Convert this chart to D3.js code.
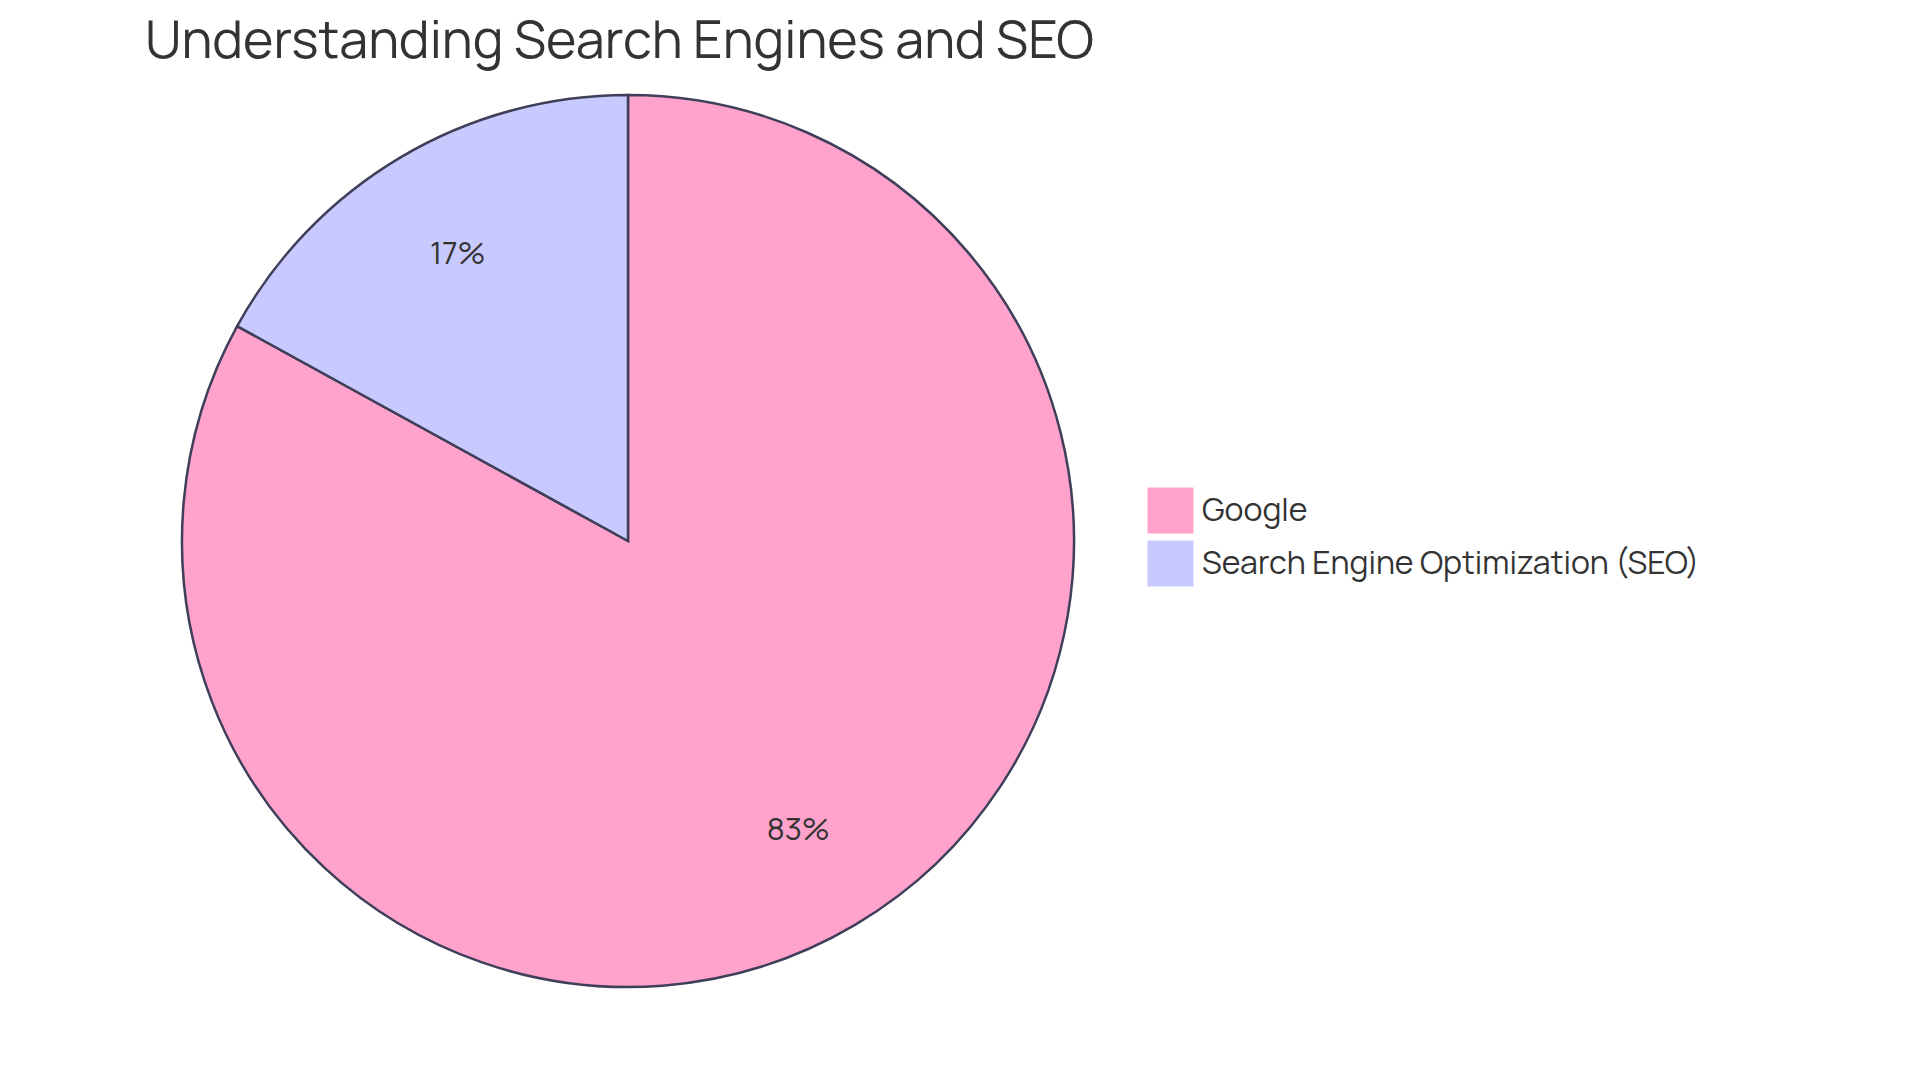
<!DOCTYPE html><html><head><meta charset="utf-8"><script src="https://cdn.jsdelivr.net/npm/d3@7"></script>
<style>body{margin:0;background:#fff}text{font-family:Manrope,Inter,"Open Sans",sans-serif;fill:#333}</style></head><body>
<svg id="c" width="1920" height="1080"></svg>
<script>
const categories=["Google","Search Engine Optimization (SEO)"];
const values=[83,17];
const colors=["#FFA3CC","#C8CAFF"];
const title="Understanding Search Engines and SEO";
const svg=d3.select("#c");
svg.append("text").attr("x",145).attr("y",58).attr("font-size",52).text(title);
const cx=628,cy=541,r=446;
const g=svg.append("g").attr("transform",`translate(${cx},${cy})`);
const pie=d3.pie().sort(null).value(d=>d)(values);
const arc=d3.arc().innerRadius(0).outerRadius(r);
g.selectAll("path").data(pie).join("path").attr("d",arc).attr("fill",(d,i)=>colors[i]).attr("stroke","#3f3f5a").attr("stroke-width",2.5);
const la=d3.arc().innerRadius(r*0.75).outerRadius(r*0.75);
g.selectAll(".l").data(pie).join("text").attr("transform",d=>`translate(${la.centroid(d)})`).attr("text-anchor","middle").attr("dy","0.35em").attr("font-size",31).text(d=>d.data+"%");
const lg=svg.append("g").attr("transform","translate(1148,488)");
categories.forEach((c,i)=>{
 lg.append("rect").attr("x",0).attr("y",i*53).attr("width",45).attr("height",45).attr("fill",colors[i]).attr("stroke",colors[i]);
 lg.append("text").attr("x",54).attr("y",i*53+22).attr("dy","0.35em").attr("font-size",32).text(c);
});
</script></body></html>
